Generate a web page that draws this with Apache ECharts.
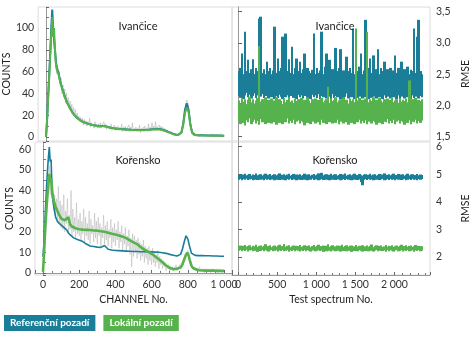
<!DOCTYPE html>
<html><head><meta charset="utf-8">
<script src="https://cdn.jsdelivr.net/npm/echarts@6/dist/echarts.min.js"></script>
<style>html,body{margin:0;padding:0;background:#fff}#c{width:474px;height:338px}</style>
</head><body><div id="c"></div>
<script>
// ---- data ----
const panelTitles = ['Ivančice', 'Kořensko'];
const legendNames = ['Referenční pozadí', 'Lokální pozadí'];
const xNameChannel = 'CHANNEL No.';
const xNameSpectrum = 'Test spectrum No.';
const yNameCounts = 'COUNTS';
const yNameRmse = 'RMSE';

// smooth background fits (channel positions)
const chSmooth = [0,5,10,15,20,25,30,35,40,45,50,55,60,70,80,90,100,110,120,130,140,150,160,170,180,190,200,220,240,260,280,300,320,340,360,380,400,420,440,460,480,500,520,540,560,580,600,620,640,660,680,700,720,740,750,760,770,780,790,800,810,820,830,840,860,880,900,920,940,960,980,1000];
const ivRef = [0,13,30,47,64,82,102,117,100,90,80,70,64,
  59,51,45,40,35,31,28,25,22,20,18.5,17,15.5,14.5,
  13,12,11,10.5,9.8,10.2,9.5,8.6,8,7.6,7.2,7,6.8,6.6,6.5,6.4,6.4,6.5,6.8,7.2,7.5,7.3,6.5,5.2,3.8,2.5,1.8,
  2,4,12,25,31,25,12,4,2.2,1.8,
  1.5,1.5,1.4,1.4,1.3,1.3,1.2,1.2];
const ivLoc = [0,12,29,46,62,80,96,110,92,100,82,68,62,
  58,50,45,39,35,31,28,24.5,22,20,18,16.5,15.5,14.3,
  12.8,11.8,11,10.3,9.6,10,9.3,8.5,8,7.5,7.1,6.9,6.7,6.5,6.3,6.2,6.2,6.3,6.5,6.8,7,6.8,6,4.8,3.5,2.3,1.7,
  2,4,11,22,27,23,11,4,2,1.6,
  1.4,1.4,1.3,1.3,1.2,1.2,1.1,1.1];
const koRef = [8,14,24,33,42,50,56,61,54,55,40,35,32,
  27,25,24,23.3,22.5,21.7,21,19.5,18.4,17.5,17,16.5,16.2,16,
  15.2,14,13.1,12.8,12.5,12.4,13.3,11.5,11.1,10.9,10.8,10.7,10.6,10.5,10.4,10.4,10.3,10.3,10.2,10.2,10.1,10,9.8,9.5,9,8.6,8.2,
  8.3,9,11.5,15,18,16.5,12.8,9.6,8.8,8.5,
  8.4,8.4,8.3,8.3,8.2,8.2,8.1,8.1];
const koLoc = [0.5,8,17,25,32,38,43,48,44,46,40,37,35,
  32,30,28,26.5,26,25.5,26,27,23.5,22.5,22,21.7,21.4,21.2,
  21,20.9,20.8,20.6,20.5,20.2,20,19.5,19,18.6,18.2,17.6,16.9,15.8,14.8,14,12.5,11.3,10.3,9.3,8,6.6,5.2,3.6,2.5,1.8,2,
  2.2,2.6,4,6.5,8.8,9.8,6.5,3.5,2.3,1.6,
  1.3,1.2,1.1,1.1,1.1,1,1,1];

// raw measured spectra, one value every rawStep channels from channel 0
const rawStep = 5;
const ivRaw = [0,12,31,48,62,84,100,114,96,95,78,74,58,66,55,60,47,54,40,48,
  36,44,31,40,30,36,26,33,24,30,21,27,19,25,17,22,16,19,14,18,
  13,17,11,16,12,15,10,14,11,17,9,13,10,12,8,14,9,11,8,12,
  9,13,8,11,10,14,9,12,7,11,8,10,7,12,6,9,8,11,6,9,
  7,10,6,9,7,12,5,9,6,10,5,8,7,11,5,9,6,13,5,8,
  6,9,5,8,6,11,4,8,6,9,5,10,6,8,5,12,6,9,7,13,
  6,10,7,14,6,9,8,11,6,10,7,9,5,8,6,7,5,6,4,5,
  3,5,3,4,2,3,2,3,1,3,2,4,4,9,11,17,22,30,34,32,
  28,22,15,9,6,3,2,3,1,2,2,1,1,2,1,3,1,2,1,2,
  1,2,1,2,2,1,1,3,1,2,1,2,1,1,2,1,1,3,1,2,
  1];
const koRaw = [0,6,18,26,35,37,45,52,38,50,36,42,30,38,28,36,26,42,24,35,
  22,33,21,38,20,30,24,36,19,28,21,40,18,31,20,27,17,34,19,26,
  18,29,16,25,19,31,15,27,18,24,16,30,14,26,19,23,15,29,17,25,
  14,27,18,24,13,22,17,28,14,23,16,25,13,21,17,26,12,22,15,24,
  13,21,16,25,12,20,15,23,11,19,14,22,10,18,13,21,9,17,3,19,
  8,18,10,16,7,17,9,15,6,14,8,16,5,13,7,12,4,13,6,11,
  4,12,5,10,3,9,5,11,2,8,4,7,2,6,3,5,1,4,2,4,
  1,3,2,3,1,3,2,4,1,3,2,4,2,5,4,6,7,9,10,9,
  11,8,6,4,3,2,2,3,1,2,1,2,1,3,1,2,1,2,0,2,
  1,2,1,1,2,0,1,2,1,2,1,1,2,0,1,2,1,1,0,1,
  1];

// RMSE per test spectrum: lowest and highest value in each bin of rmseStep spectra (bin centre from rmseStart)
const rmseStart = 10, rmseStep = 20;
const ivRmseRefLo = [2.15,2.12,2.18,2.1,2.16,2.2,2.13,2.17,2.11,2.15,2.19,2.12,2.16,2.1,2.14,2.18,2.12,2.15,2.2,2.11,
  2.16,2.13,2.18,2.1,2.15,2.12,2.17,2.14,2.1,2.19,2.13,2.16,2.11,2.15,2.18,2.12,2.14,2.1,2.17,2.13,
  2.16,2.11,2.15,2.19,2.12,2.14,2.1,2.17,2.13,2.16,2.12,2.18,2.1,2.15,2.13,2.17,2.11,2.16,2.14,2.1,
  2.18,2.12,2.15,2.13,2.17,2.1,2.16,2.12,2.14,2.19,2.11,2.15,2.13,2.17,2.1,2.16,2.12,2.14,2.18,2.11,
  2.15,2.13,2.17,2.1,2.16,2.12,2.14,2.19,2.11,2.15,2.13,2.17,2.1,2.16,2.12,2.14,2.18,2.11,2.15,2.13,
  2.17,2.1,2.16,2.12,2.14,2.19,2.11,2.15,2.13,2.17,2.1,2.16,2.12,2.14,2.18,2.11,2.15,2.13];
const ivRmseRefHi = [2.55,2.6,2.83,2.5,3.18,2.55,2.73,2.52,2.58,2.74,2.5,2.6,2.55,3.39,3.42,2.52,2.58,2.5,2.7,2.55,
  2.6,2.5,2.56,3.26,2.52,2.75,2.55,2.6,3.1,2.5,3.15,2.55,2.74,2.52,2.94,2.5,2.6,2.75,2.55,2.7,
  2.52,2.58,2.83,2.5,2.6,2.55,2.52,2.57,3.15,2.5,2.6,2.52,2.56,3.18,2.5,2.62,2.83,2.52,2.73,2.55,
  2.58,2.5,2.92,2.55,2.6,2.9,2.52,2.56,2.5,2.78,2.55,2.6,2.52,3.23,2.5,2.58,2.55,2.62,2.83,2.5,
  2.56,3.37,2.55,2.6,2.75,2.52,2.8,2.55,2.58,2.9,2.5,2.6,2.55,2.7,2.52,2.58,2.5,2.6,2.55,2.56,
  2.8,2.52,2.6,2.5,2.7,2.55,2.58,2.52,2.62,2.5,2.57,2.55,3.23,2.52,3.1,3.37,2.55,2.5];
const ivRmseLocLo = [1.75,1.7,1.78,1.72,1.68,1.76,1.73,1.79,1.7,1.74,1.77,1.71,1.75,1.69,1.78,1.73,1.76,1.7,1.74,1.72,
  1.77,1.71,1.75,1.73,1.69,1.78,1.72,1.76,1.7,1.74,1.73,1.79,1.71,1.75,1.72,1.77,1.7,1.74,1.76,1.71,
  1.75,1.73,1.68,1.77,1.72,1.76,1.7,1.74,1.78,1.71,1.75,1.73,1.69,1.77,1.72,1.76,1.7,1.74,1.73,1.78,
  1.71,1.75,1.72,1.77,1.7,1.74,1.76,1.71,1.75,1.73,1.69,1.78,1.72,1.76,1.7,1.74,1.73,1.77,1.71,1.75,
  1.72,1.76,1.7,1.74,1.78,1.71,1.75,1.73,1.69,1.77,1.72,1.76,1.7,1.74,1.73,1.78,1.71,1.75,1.72,1.77,
  1.7,1.74,1.76,1.71,1.75,1.73,1.69,1.78,1.72,1.76,1.7,1.74,1.73,1.77,1.71,1.75,1.72,1.76];
const ivRmseLocHi = [2.08,2.04,2.12,2.06,2.1,2.02,2.09,2.14,2.05,2.1,2.03,2.08,2.12,2.95,2.06,2.1,2.04,2.13,2.07,2.09,
  2.03,2.11,2.06,2.08,2.14,2.04,2.1,2.07,2.02,2.12,2.05,2.09,2.13,2.06,2.08,2.04,2.11,2.07,2.1,2.03,
  2.12,2.06,2.09,2.05,2.13,2.08,2.04,2.1,2.07,2.11,2.03,2.09,2.06,2.12,2.05,2.08,2.1,2.3,2.04,2.11,
  2.07,2.09,2.13,2.05,2.08,2.1,2.04,2.12,2.06,2.09,2.03,2.11,2.07,2.1,2.05,3.23,2.08,2.12,2.04,2.09,
  2.06,2.11,3.18,2.05,2.1,2.07,2.13,2.04,2.09,2.06,2.12,2.08,2.05,2.1,2.03,2.11,2.07,2.09,2.13,2.05,
  2.08,2.1,2.04,2.12,2.06,2.09,2.07,2.11,2.05,2.4,2.08,2.1,2.04,2.12,2.06,2.09,2.07,2.1];
const koRmseRefLo = [4.8,4.83,4.78,4.82,4.8,4.84,4.79,4.81,4.83,4.78,4.8,4.82,4.79,4.84,4.8,4.81,4.78,4.83,4.8,4.82,
  4.79,4.81,4.84,4.78,4.8,4.82,4.79,4.83,4.8,4.81,4.78,4.82,4.8,4.84,4.79,4.81,4.83,4.78,4.8,4.82,
  4.79,4.83,4.8,4.81,4.78,4.82,4.8,4.84,4.79,4.81,4.83,4.78,4.8,4.82,4.79,4.83,4.8,4.81,4.78,4.82,
  4.8,4.84,4.79,4.81,4.83,4.78,4.8,4.82,4.79,4.83,4.8,4.81,4.78,4.82,4.8,4.84,4.79,4.81,4.72,4.6,
  4.8,4.82,4.79,4.83,4.8,4.81,4.78,4.82,4.8,4.84,4.79,4.81,4.83,4.78,4.8,4.82,4.79,4.83,4.8,4.81,
  4.78,4.82,4.8,4.84,4.79,4.81,4.83,4.78,4.8,4.82,4.79,4.83,4.8,4.81,4.78,4.82,4.8,4.83];
const koRmseRefHi = [4.97,5.0,4.95,4.99,5.02,4.96,4.98,5.01,4.95,4.99,4.97,5.03,4.96,4.98,5.0,4.95,4.99,5.02,4.96,4.98,
  5.01,4.95,4.97,5.0,4.96,4.99,5.03,4.95,4.98,5.0,4.96,4.99,5.02,4.95,4.97,5.01,4.96,4.99,4.98,5.0,
  4.95,4.97,5.02,4.96,4.99,5.0,4.95,4.98,5.01,4.96,4.99,5.03,4.97,5.05,4.96,4.99,5.0,4.95,4.98,5.02,
  4.96,4.99,5.0,4.95,4.97,5.01,4.96,4.99,5.03,4.95,4.98,5.0,4.96,4.99,5.02,4.95,4.97,5.01,4.96,4.95,
  4.99,5.0,4.95,4.98,5.02,4.96,4.99,5.0,4.95,4.97,5.01,4.96,4.99,5.03,4.95,4.98,5.0,4.96,4.99,5.02,
  4.95,4.97,5.01,4.96,4.99,5.0,4.95,4.98,5.02,4.96,4.99,5.0,4.95,4.97,5.01,4.96,4.99,4.97];
const koRmseLocLo = [2.22,2.25,2.2,2.24,2.21,2.26,2.19,2.23,2.25,2.2,2.22,2.24,2.18,2.23,2.21,2.25,2.2,2.24,2.22,2.19,
  2.23,2.25,2.2,2.22,2.24,2.19,2.23,2.21,2.25,2.2,2.22,2.24,2.18,2.23,2.21,2.25,2.2,2.24,2.22,2.19,
  2.23,2.21,2.25,2.2,2.24,2.22,2.19,2.23,2.25,2.2,2.22,2.24,2.21,2.23,2.18,2.25,2.2,2.24,2.22,2.19,
  2.23,2.25,2.2,2.22,2.24,2.19,2.23,2.21,2.25,2.2,2.22,2.24,2.18,2.23,2.21,2.25,2.2,2.24,2.22,2.19,
  2.23,2.21,2.25,2.2,2.24,2.22,2.19,2.23,2.25,2.2,2.22,2.24,2.21,2.23,2.18,2.25,2.2,2.24,2.22,2.19,
  2.23,2.25,2.2,2.22,2.24,2.19,2.23,2.21,2.25,2.2,2.22,2.24,2.18,2.23,2.21,2.25,2.2,2.23];
const koRmseLocHi = [2.38,2.41,2.36,2.4,2.43,2.37,2.39,2.42,2.35,2.4,2.38,2.44,2.36,2.39,2.41,2.37,2.4,2.46,2.36,2.39,
  2.42,2.35,2.38,2.41,2.37,2.4,2.44,2.36,2.39,2.47,2.37,2.4,2.42,2.35,2.38,2.41,2.37,2.4,2.39,2.43,
  2.36,2.38,2.42,2.37,2.4,2.41,2.35,2.39,2.43,2.37,2.4,2.44,2.36,2.39,2.41,2.37,2.4,2.46,2.36,2.39,
  2.42,2.35,2.38,2.41,2.37,2.4,2.44,2.36,2.39,2.42,2.37,2.4,2.41,2.35,2.38,2.43,2.37,2.4,2.39,2.42,
  2.36,2.38,2.41,2.37,2.4,2.45,2.35,2.39,2.42,2.37,2.4,2.41,2.36,2.38,2.43,2.37,2.4,2.39,2.42,2.36,
  2.38,2.41,2.37,2.4,2.44,2.35,2.39,2.42,2.37,2.4,2.41,2.36,2.38,2.43,2.37,2.4,2.39,2.38];

// ---- styling ----
const TEAL = '#1b7e98', GREEN = '#56b24c', GRAY = '#b0b0b0';
const FONT = 'Lato';
const smooth = (vals) => chSmooth.map((c, i) => [c, vals[i]]);
const raw = (vals) => vals.map((v, i) => [i * rawStep, v]);
const binX = (i) => rmseStart + i * rmseStep;
const thou = (v) => String(v).replace(/\B(?=(\d{3})+(?!\d))/g, ' ');

const grids = [
  {left: 35, top: 7, width: 197, height: 134},
  {left: 232, top: 7, width: 198, height: 134},
  {left: 35, top: 142, width: 197, height: 133},
  {left: 232, top: 142, width: 198, height: 133}
].map(g => Object.assign({show: true, borderColor: '#dcdcdc', borderWidth: 1, backgroundColor: 'transparent'}, g));

const lbl = {fontFamily: FONT, fontSize: 10.5, color: '#333'};
function xAxis(i, min, max, showLabels, name, fmt, minorSplit) {
  return {
    type: 'value', gridIndex: i, min, max, splitLine: {show: false},
    axisLine: {show: showLabels, lineStyle: {color: '#999'}},
    axisTick: {show: showLabels, inside: true, length: 3, lineStyle: {color: '#666'}},
    minorTick: {show: showLabels, splitNumber: minorSplit, length: 2, lineStyle: {color: '#777'}},
    axisLabel: Object.assign({show: showLabels, showMinLabel: false, showMaxLabel: false, margin: 4, formatter: fmt}, lbl),
    name: showLabels ? name : '', nameLocation: 'middle', nameGap: 19,
    nameTextStyle: {fontFamily: FONT, fontSize: 10.5, color: '#222'}
  };
}
function yLeft(i, min, max, name) {
  return {
    type: 'value', gridIndex: i, min, max, position: 'left', splitLine: {show: false},
    axisLine: {show: true, lineStyle: {color: '#999'}},
    axisTick: {show: true, inside: true, length: 3, lineStyle: {color: '#666'}},
    minorTick: {show: true, splitNumber: 2, length: 3, lineStyle: {color: '#777'}},
    axisLabel: Object.assign({showMinLabel: false, showMaxLabel: false, margin: 4}, lbl),
    name, nameLocation: 'middle', nameGap: 15, nameRotate: 90,
    nameTextStyle: {fontFamily: FONT, fontSize: 10.5, color: '#222'}
  };
}
function yRight(i, min, max, name, fmt) {
  return {
    type: 'value', gridIndex: i, min, max, position: 'right', splitLine: {show: false},
    axisLine: {show: true, lineStyle: {color: '#999'}},
    axisTick: {show: true, inside: false, length: 4, lineStyle: {color: '#666'}},
    axisLabel: Object.assign({showMinLabel: false, showMaxLabel: false, margin: 6, formatter: fmt}, lbl),
    name, nameLocation: 'middle', nameGap: 30, nameRotate: 90,
    nameTextStyle: {fontFamily: FONT, fontSize: 10.5, color: '#222'}
  };
}
function line(name, xi, data, color, width, z, opacity) {
  return {type: 'line', name, xAxisIndex: xi, yAxisIndex: xi, data, showSymbol: false, symbol: 'none',
    silent: true, animation: false, z,
    lineStyle: {color, width, opacity: opacity == null ? 1 : opacity}, itemStyle: {color}};
}
// RMSE noise band: one bar per bin, from its lowest to its highest value
function band(name, xi, lo, hi, color, z) {
  return {
    type: 'custom', name, xAxisIndex: xi, yAxisIndex: xi, z, silent: true, animation: false,
    itemStyle: {color},
    data: lo.map((v, i) => [binX(i), v, hi[i]]),
    encode: {x: 0, y: [1, 2]},
    renderItem: (params, api) => {
      const x = api.value(0);
      const p1 = api.coord([x - rmseStep / 2, api.value(2)]);
      const p2 = api.coord([x + rmseStep / 2, api.value(1)]);
      const x0 = Math.floor(p1[0]), x1 = Math.ceil(p2[0]);
      return {type: 'rect', shape: {x: x0, y: p1[1], width: x1 - x0, height: p2[1] - p1[1]},
        style: {fill: color}};
    }
  };
}

const legendText = (bg) => ({color: '#fff', backgroundColor: bg, padding: [3, 6, 3, 6], fontSize: 10, fontFamily: FONT, fontWeight: 'bold'});
const option = {
  animation: false,
  textStyle: {fontFamily: FONT},
  grid: grids,
  title: [
    {text: panelTitles[0], left: 133, top: 16, textAlign: 'center'},
    {text: panelTitles[0], left: 330, top: 16, textAlign: 'center'},
    {text: panelTitles[1], left: 133, top: 150, textAlign: 'center'},
    {text: panelTitles[1], left: 330, top: 150, textAlign: 'center'}
  ].map(t => Object.assign(t, {textStyle: {fontFamily: FONT, fontSize: 11, fontWeight: 'normal', color: '#222'}})),
  xAxis: [
    xAxis(0, -44, 1044, false, '', thou, 4),
    xAxis(1, -77, 2455, false, '', thou, 5),
    xAxis(2, -44, 1044, true, xNameChannel, thou, 4),
    xAxis(3, -77, 2455, true, xNameSpectrum, thou, 5)
  ],
  yAxis: [
    yLeft(0, -3.7, 119.3, yNameCounts),
    yRight(1, 1.43, 3.575, yNameRmse, v => v.toFixed(1).replace('.', ',')),
    yLeft(2, -1, 63.5, yNameCounts),
    yRight(3, 1.34, 6.17, yNameRmse, v => String(v))
  ],
  legend: {
    left: -6, top: 310, itemWidth: 0, itemHeight: 0, itemGap: 3, icon: 'none', selectedMode: false,
    data: [
      {name: legendNames[0], textStyle: legendText(TEAL)},
      {name: legendNames[1], textStyle: legendText(GREEN)}
    ]
  },
  series: [
    line('raw', 0, raw(ivRaw), GRAY, 0.8, 1, 0.7),
    line(legendNames[0], 0, smooth(ivRef), TEAL, 2, 2),
    line(legendNames[1], 0, smooth(ivLoc), GREEN, 2, 3),
    band(legendNames[0], 1, ivRmseRefLo, ivRmseRefHi, TEAL, 2),
    band(legendNames[1], 1, ivRmseLocLo, ivRmseLocHi, GREEN, 3),
    line('raw', 2, raw(koRaw), GRAY, 0.8, 1, 0.6),
    line(legendNames[0], 2, smooth(koRef), TEAL, 1.6, 2),
    line(legendNames[1], 2, smooth(koLoc), GREEN, 2.6, 3),
    band(legendNames[0], 3, koRmseRefLo, koRmseRefHi, TEAL, 2),
    band(legendNames[1], 3, koRmseLocLo, koRmseLocHi, GREEN, 3)
  ]
};
const chart = echarts.init(document.getElementById('c'), null, {renderer: 'canvas'});
chart.setOption(option);
</script></body></html>
